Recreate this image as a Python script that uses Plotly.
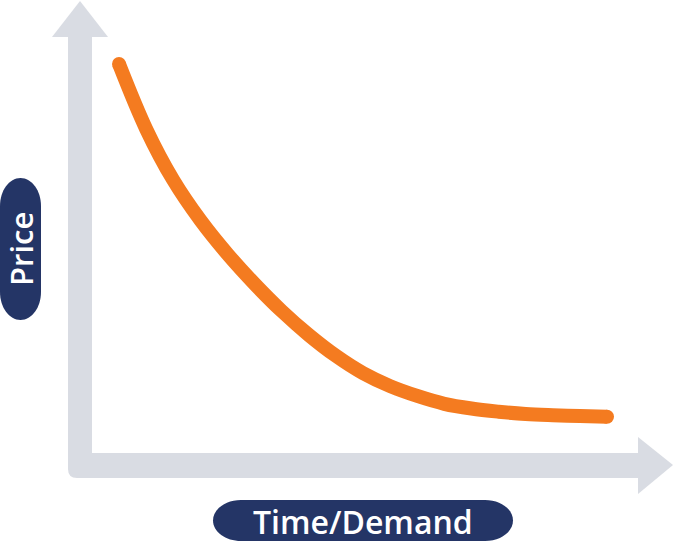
import plotly.graph_objects as go

# curve values: demand on x, price on y
demand = [1, 1.5, 2, 2.5, 3, 3.5, 4, 4.5, 5, 5.5, 6, 6.5, 7, 7.5, 8, 8.5, 9, 9.5, 10]
price = [10.0, 8.35, 7.05, 6.03, 5.17, 4.41, 3.72, 3.11, 2.58, 2.14, 1.81, 1.56, 1.36,
         1.24, 1.16, 1.10, 1.07, 1.05, 1.03]
x_label = "Time/Demand"
y_label = "Price"

W, H = 675, 542
GREY = "#d9dce3"
ORANGE = "#f47b20"
NAVY = "#243566"


def px(x, y):
    # pixel position -> paper coords (margins are zero)
    return "%.5f,%.5f" % (x / W, 1 - y / H)


def pill(x0, y0, x1, y1, rx, ry):
    k = 0.5523
    p = [
        "M" + px(x0 + rx, y0),
        "L" + px(x1 - rx, y0),
        "C" + px(x1 - rx + k * rx, y0) + " " + px(x1, y0 + ry - k * ry) + " " + px(x1, y0 + ry),
        "L" + px(x1, y1 - ry),
        "C" + px(x1, y1 - ry + k * ry) + " " + px(x1 - rx + k * rx, y1) + " " + px(x1 - rx, y1),
        "L" + px(x0 + rx, y1),
        "C" + px(x0 + rx - k * rx, y1) + " " + px(x0, y1 - ry + k * ry) + " " + px(x0, y1 - ry),
        "L" + px(x0, y0 + ry),
        "C" + px(x0, y0 + ry - k * ry) + " " + px(x0 + rx - k * rx, y0) + " " + px(x0 + rx, y0),
        "Z",
    ]
    return " ".join(p)


axes_path = " ".join([
    "M" + px(92, 37), "L" + px(92, 453), "L" + px(639, 453), "L" + px(639, 478),
    "L" + px(77, 478), "Q" + px(68, 478) + " " + px(68, 469), "L" + px(68, 37), "Z",
])
up_head = "M" + px(52, 37) + " L" + px(80, 1) + " L" + px(108, 37) + " Z"
right_head = "M" + px(638, 437) + " L" + px(673, 465) + " L" + px(638, 494) + " Z"

shp = dict(type="path", xref="paper", yref="paper", line_width=0, layer="below")
shapes = [
    dict(shp, path=axes_path, fillcolor=GREY),
    dict(shp, path=up_head, fillcolor=GREY),
    dict(shp, path=right_head, fillcolor=GREY),
    dict(shp, path=pill(0, 178, 41, 320, 20.5, 28), fillcolor=NAVY),
    dict(shp, path=pill(213, 500, 513, 541, 28, 20.5), fillcolor=NAVY),
]

fig = go.Figure()
fig.add_trace(go.Scatter(x=demand, y=price, mode="lines",
                         line=dict(color=ORANGE, width=14, shape="spline"),
                         hoverinfo="skip"))
# round line ends
fig.add_trace(go.Scatter(x=[demand[0], demand[-1]], y=[price[0], price[-1]], mode="markers",
                         marker=dict(color=ORANGE, size=14), hoverinfo="skip"))

fig.update_layout(
    width=W, height=H,
    margin=dict(l=0, r=0, t=0, b=0),
    paper_bgcolor="white", plot_bgcolor="white",
    showlegend=False,
    xaxis=dict(range=[-1.195, 11.254], visible=False, fixedrange=True),
    yaxis=dict(range=[-2.153, 11.627], visible=False, fixedrange=True),
    shapes=shapes,
    annotations=[
        dict(text=y_label, xref="paper", yref="paper", x=21 / W, y=1 - 249 / H,
             xanchor="center", yanchor="middle", textangle=-90, showarrow=False,
             font=dict(family="Open Sans", size=31, color="white", weight=600)),
        dict(text=x_label, xref="paper", yref="paper", x=363 / W, y=1 - 521 / H,
             xanchor="center", yanchor="middle", showarrow=False,
             font=dict(family="Open Sans", size=32, color="white", weight=600)),
    ],
)

fig.write_html("out.html", config={"displayModeBar": False},
               post_script="document.body.style.margin='0';")
